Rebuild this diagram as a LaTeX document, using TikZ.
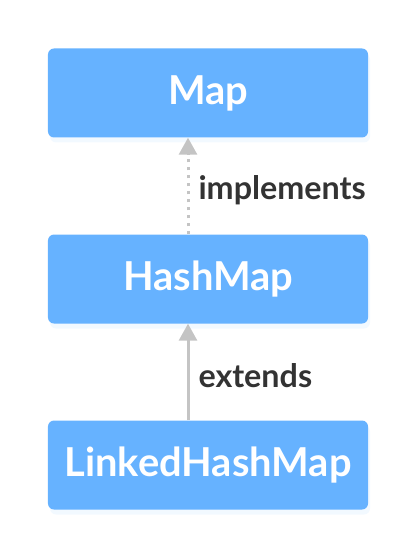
\documentclass[tikz,border=0pt]{standalone}
\usepackage{fontspec}
\setmainfont{Lato}
\usetikzlibrary{arrows.meta}
\usetikzlibrary{shadows}

\definecolor{boxblue}{HTML}{66B2FF}
\definecolor{arrowgray}{HTML}{C4C4C4}
\definecolor{labelgray}{HTML}{333333}

\tikzset{
  classbox/.style={fill=boxblue, rounded corners=6bp, minimum width=320bp,
    minimum height=89bp, inner sep=0pt, text=white,
    font=\fontsize{40}{46}\selectfont\bfseries,
    drop shadow={shadow xshift=2bp, shadow yshift=-5bp, fill=boxblue!12, opacity=0.7}},
  relarrow/.style={arrowgray, line width=3bp, -{Triangle[length=17bp,width=18bp]}},
  rellabel/.style={text=labelgray, font=\fontsize{32.4}{37}\selectfont\bfseries,
    anchor=west, inner sep=0pt}
}

\begin{document}
\begin{tikzpicture}[x=1bp,y=-1bp]
  % page size
  \useasboundingbox (0,0) rectangle (416,558);

  % the three classes
  \node[classbox] (map) at (208,93) {Map};
  \node[classbox] (hashmap) at (208,279) {HashMap};
  \node[classbox] (linked) at (208,465) {LinkedHashMap};

  % relations
  \draw[relarrow, dash pattern=on 3bp off 5bp] ([xshift=-20bp]hashmap.north) -- ([xshift=-20bp]map.south)
    node[rellabel, midway, xshift=9bp, yshift=-4bp] (impl) {implements};
  \draw[relarrow] ([xshift=-20bp]linked.north) -- ([xshift=-20bp]hashmap.south)
    node[rellabel, midway, xshift=9bp, yshift=-4bp] (ext) {extends};
\end{tikzpicture}
\end{document}
